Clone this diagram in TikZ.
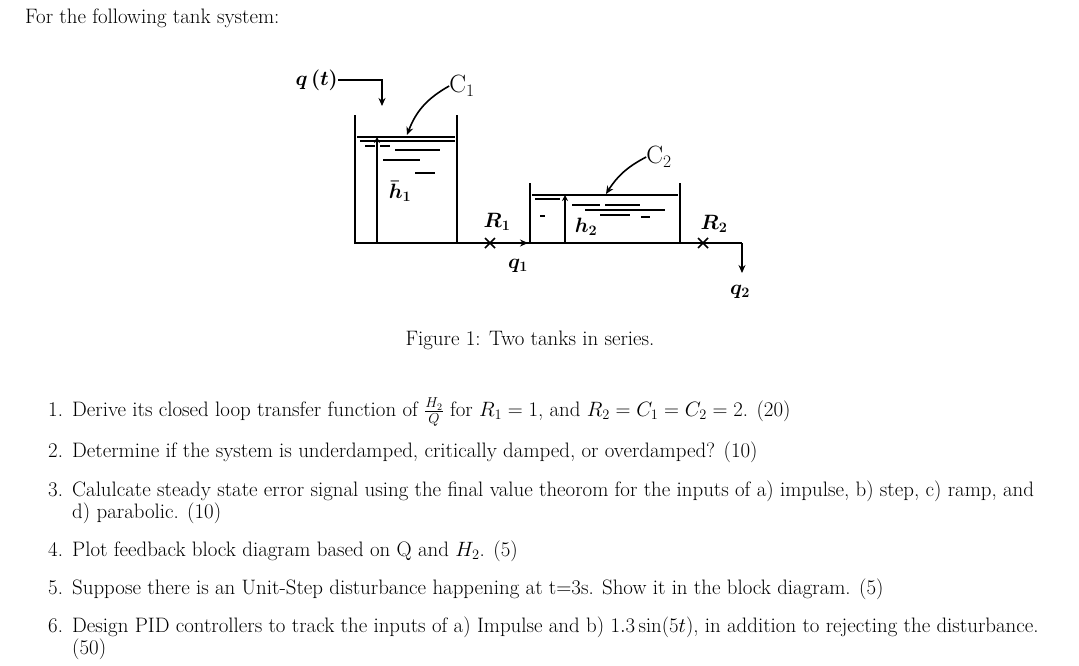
\documentclass[tikz,border=0pt]{standalone}
\usepackage{bm}
\usetikzlibrary{arrows.meta}
\begin{document}
\begin{tikzpicture}[x=1pt,y=-1pt,
  txt/.style={anchor=base west,inner sep=0pt,font=\fontsize{20.9}{24}\selectfont},
  wall/.style={line width=2.6pt},
  thin/.style={line width=1.2pt},
  dash1/.style={line width=1.3pt},
  arr/.style={line width=1.6pt,-{Stealth[length=8pt,width=7pt]}},
  lab/.style={inner sep=0pt,font=\fontsize{22}{22}\selectfont},
  clab/.style={inner sep=0pt,font=\fontsize{25}{25}\selectfont}]
\useasboundingbox (0,0) rectangle (1079,665);
\node[txt] (t0) at (25,23) {For the following tank system:};
% tanks
\draw[wall] (355,115) -- (355,243) -- (742,243) coordinate (pend);
\draw[wall] (457,115) -- (457,243);
\draw[wall] (530,183) -- (530,243);
\draw[wall] (680,183) -- (680,243);
\draw[thin] (357,137) -- (455,137);
\draw[thin] (532,195) -- (678,195);
\foreach \a/\b/\y in {360/455/141,365/375/146,380/390/146,395/440/150,383/420/160,415/435/173}
  \draw[dash1] (\a,\y) -- (\b,\y);
\foreach \a/\b/\y in {535/560/199,572/600/205,605/640/205,585/660/210,600/630/215,641/650/217,540/545/216,660/665/210}
  \draw[dash1] (\a,\y) -- (\b,\y);
% heights
\coordinate (h1b) at (377,243); \coordinate (h1t) at (377,137);
\draw[line width=1.6pt,-{Stealth[length=6pt,width=6pt]}] (h1b) -- (h1t);
\coordinate (h2b) at (565,243); \coordinate (h2t) at (565,195);
\draw[line width=1.6pt,-{Stealth[length=6pt,width=6pt]}] (h2b) -- (h2t);
\node[lab] (h1) at (400,191) {$\bm{\bar h_1}$};
\node[lab] (h2) at (586,227) {$\bm{h_2}$};
% inflow
\node[lab,anchor=east] (q) at (338,80) {$\bm{q\,(t)}$};
\coordinate (qc) at (382,80);
\draw[line width=1.6pt,-{Stealth[length=8pt,width=7pt]}] (q.east) -- (qc) -- (382,106);
% C labels
\node[clab] (C1) at (462,86) {C\textsubscript{1}};
\node[clab] (C2) at (659,157) {C\textsubscript{2}};
\draw[arr] (C1.west) to[bend right=20] (407,135);
\draw[arr] (C2.west) to[bend right=15] (606,194);
% valves
\foreach \x in {490,703}{\draw[line width=1.6pt] (\x-5,238) -- (\x+5,248) (\x-5,248) -- (\x+5,238);}
\node[lab] (R1) at (497,222) {$\bm{R_1}$};
\node[lab] (R2) at (714,224) {$\bm{R_2}$};
\coordinate (q1a) at (500,243); \coordinate (q1b) at (528,243);
\draw[line width=1.6pt,-{Stealth[length=8pt,width=7pt]}] (q1a) -- (q1b);
\node[lab] (q1) at (518,266) {$\bm{q_1}$};
\coordinate (q2e) at (742,273);
\draw[line width=2.6pt] (pend) -- (742,262);
\draw[line width=1.6pt,-{Stealth[length=8pt,width=7pt]}] (742,258) -- (q2e);
\node[lab] (q2) at (740,292) {$\bm{q_2}$};
% caption
\node[txt,anchor=base] (cap) at (530,345) {Figure 1: Two tanks in series.};
% items
\node[txt] (n1) at (48,416) {1.};
\node[txt] (i1) at (72,416) {Derive its closed loop transfer function of $\frac{H_2}{Q}$ for $R_1=1$, and $R_2=C_1=C_2=2$. (20)};
\node[txt] (n2) at (48,457) {2.};
\node[txt] (i2) at (72,457) {Determine if the system is underdamped, critically damped, or overdamped? (10)};
\node[txt] (n3) at (48,496) {3.};
\node[txt] (i3) at (72,496) {Calulcate steady state error signal using the final value theorom for the inputs of a) impulse, b) step, c) ramp, and};
\node[txt] (i3b) at (72,518) {d) parabolic. (10)};
\node[txt] (n4) at (48,556) {4.};
\node[txt] (i4) at (72,556) {Plot feedback block diagram based on Q and $H_2$. (5)};
\node[txt] (n5) at (48,594) {5.};
\node[txt] (i5) at (72,594) {Suppose there is an Unit-Step disturbance happening at t=3s. Show it in the block diagram. (5)};
\node[txt] (n6) at (48,632) {6.};
\node[txt] (i6) at (72,632) {Design PID controllers to track the inputs of a) Impulse and b) $1.3\sin(5t)$, in addition to rejecting the disturbance.};
\node[txt] (i6b) at (72,654) {(50)};
\end{tikzpicture}
\end{document}
